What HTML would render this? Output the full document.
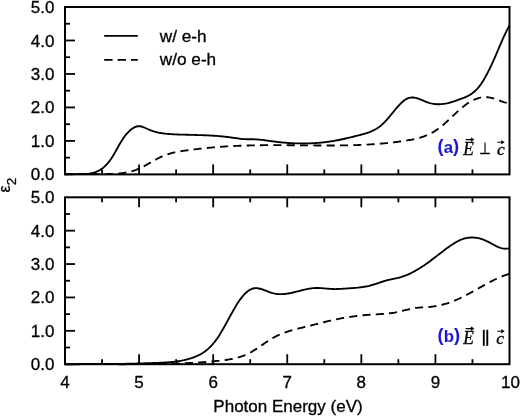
<!DOCTYPE html>
<html><head><meta charset="utf-8"><style>
html,body{margin:0;padding:0;background:#fff;}
body{width:520px;height:417px;overflow:hidden;}
svg{display:block;}
</style></head><body>
<svg width="520" height="417" viewBox="0 0 520 417">
<g stroke="#000" stroke-width="1.8" fill="none" stroke-linecap="butt">
<rect x="65.0" y="7.0" width="444.5" height="167.4" fill="none" stroke="#000" stroke-width="2"/>
<line x1="65.0" y1="157.66" x2="70.0" y2="157.66"/>
<line x1="65.0" y1="140.92" x2="75.0" y2="140.92"/>
<line x1="65.0" y1="124.18" x2="70.0" y2="124.18"/>
<line x1="65.0" y1="107.44" x2="75.0" y2="107.44"/>
<line x1="65.0" y1="90.70" x2="70.0" y2="90.70"/>
<line x1="65.0" y1="73.96" x2="75.0" y2="73.96"/>
<line x1="65.0" y1="57.22" x2="70.0" y2="57.22"/>
<line x1="65.0" y1="40.48" x2="75.0" y2="40.48"/>
<line x1="65.0" y1="23.74" x2="70.0" y2="23.74"/>
<line x1="102.04" y1="174.4" x2="102.04" y2="169.4"/>
<line x1="139.08" y1="174.4" x2="139.08" y2="164.4"/>
<line x1="176.12" y1="174.4" x2="176.12" y2="169.4"/>
<line x1="213.17" y1="174.4" x2="213.17" y2="164.4"/>
<line x1="250.21" y1="174.4" x2="250.21" y2="169.4"/>
<line x1="287.25" y1="174.4" x2="287.25" y2="164.4"/>
<line x1="324.29" y1="174.4" x2="324.29" y2="169.4"/>
<line x1="361.33" y1="174.4" x2="361.33" y2="164.4"/>
<line x1="398.38" y1="174.4" x2="398.38" y2="169.4"/>
<line x1="435.42" y1="174.4" x2="435.42" y2="164.4"/>
<line x1="472.46" y1="174.4" x2="472.46" y2="169.4"/>
<rect x="65.0" y="197.3" width="444.5" height="166.9" fill="none" stroke="#000" stroke-width="2"/>
<line x1="65.0" y1="347.51" x2="70.0" y2="347.51"/>
<line x1="65.0" y1="330.82" x2="75.0" y2="330.82"/>
<line x1="65.0" y1="314.13" x2="70.0" y2="314.13"/>
<line x1="65.0" y1="297.44" x2="75.0" y2="297.44"/>
<line x1="65.0" y1="280.75" x2="70.0" y2="280.75"/>
<line x1="65.0" y1="264.06" x2="75.0" y2="264.06"/>
<line x1="65.0" y1="247.37" x2="70.0" y2="247.37"/>
<line x1="65.0" y1="230.68" x2="75.0" y2="230.68"/>
<line x1="65.0" y1="213.99" x2="70.0" y2="213.99"/>
<line x1="102.04" y1="364.2" x2="102.04" y2="359.2"/>
<line x1="102.04" y1="197.3" x2="102.04" y2="202.3"/>
<line x1="139.08" y1="364.2" x2="139.08" y2="354.2"/>
<line x1="139.08" y1="197.3" x2="139.08" y2="207.3"/>
<line x1="176.12" y1="364.2" x2="176.12" y2="359.2"/>
<line x1="176.12" y1="197.3" x2="176.12" y2="202.3"/>
<line x1="213.17" y1="364.2" x2="213.17" y2="354.2"/>
<line x1="213.17" y1="197.3" x2="213.17" y2="207.3"/>
<line x1="250.21" y1="364.2" x2="250.21" y2="359.2"/>
<line x1="250.21" y1="197.3" x2="250.21" y2="202.3"/>
<line x1="287.25" y1="364.2" x2="287.25" y2="354.2"/>
<line x1="287.25" y1="197.3" x2="287.25" y2="207.3"/>
<line x1="324.29" y1="364.2" x2="324.29" y2="359.2"/>
<line x1="324.29" y1="197.3" x2="324.29" y2="202.3"/>
<line x1="361.33" y1="364.2" x2="361.33" y2="354.2"/>
<line x1="361.33" y1="197.3" x2="361.33" y2="207.3"/>
<line x1="398.38" y1="364.2" x2="398.38" y2="359.2"/>
<line x1="398.38" y1="197.3" x2="398.38" y2="202.3"/>
<line x1="435.42" y1="364.2" x2="435.42" y2="354.2"/>
<line x1="435.42" y1="197.3" x2="435.42" y2="207.3"/>
<line x1="472.46" y1="364.2" x2="472.46" y2="359.2"/>
<line x1="472.46" y1="197.3" x2="472.46" y2="202.3"/>
</g>
<g fill="none" stroke="#000" stroke-width="1.85" stroke-linejoin="round">
<path d="M65.00,174.31 L66.20,174.22 L67.40,174.16 L68.59,174.11 L69.79,174.09 L70.99,174.08 L72.19,174.08 L73.40,174.09 L74.60,174.10 L75.80,174.12 L77.00,174.14 L78.20,174.16 L79.40,174.16 L80.60,174.17 L81.80,174.16 L83.00,174.13 L84.19,174.09 L85.39,174.03 L86.59,173.94 L87.79,173.83 L88.98,173.69 L90.16,173.51 L91.34,173.28 L92.51,173.02 L93.67,172.71 L94.82,172.35 L95.94,171.94 L97.05,171.47 L98.14,170.96 L99.19,170.40 L100.23,169.78 L101.23,169.13 L102.21,168.43 L103.15,167.69 L104.07,166.92 L104.96,166.11 L105.82,165.27 L106.65,164.41 L107.46,163.52 L108.24,162.60 L108.99,161.67 L109.72,160.72 L110.43,159.75 L111.12,158.77 L111.79,157.77 L112.44,156.76 L113.07,155.74 L113.69,154.71 L114.29,153.68 L114.89,152.64 L115.48,151.59 L116.07,150.55 L116.65,149.50 L117.23,148.45 L117.81,147.40 L118.40,146.35 L118.98,145.30 L119.58,144.26 L120.17,143.22 L120.78,142.18 L121.40,141.15 L122.03,140.13 L122.68,139.13 L123.35,138.13 L124.05,137.15 L124.76,136.18 L125.50,135.24 L126.26,134.31 L127.05,133.41 L127.86,132.53 L128.71,131.67 L129.58,130.85 L130.48,130.05 L131.41,129.30 L132.38,128.59 L133.38,127.93 L134.43,127.35 L135.53,126.86 L136.67,126.48 L137.84,126.24 L139.04,126.17 L140.23,126.26 L141.41,126.50 L142.56,126.85 L143.68,127.27 L144.79,127.74 L145.88,128.23 L146.97,128.74 L148.06,129.24 L149.16,129.71 L150.28,130.16 L151.40,130.58 L152.53,130.97 L153.68,131.34 L154.83,131.68 L155.99,131.99 L157.15,132.28 L158.32,132.54 L159.50,132.79 L160.68,133.01 L161.86,133.21 L163.05,133.38 L164.24,133.54 L165.43,133.69 L166.62,133.81 L167.82,133.93 L169.01,134.02 L170.21,134.11 L171.41,134.19 L172.60,134.26 L173.80,134.32 L175.00,134.37 L176.20,134.42 L177.40,134.47 L178.60,134.51 L179.80,134.55 L181.00,134.59 L182.20,134.63 L183.40,134.66 L184.60,134.70 L185.80,134.73 L187.00,134.76 L188.20,134.79 L189.40,134.82 L190.60,134.85 L191.80,134.89 L193.00,134.92 L194.20,134.95 L195.40,134.98 L196.59,135.01 L197.79,135.05 L198.99,135.08 L200.19,135.12 L201.39,135.16 L202.59,135.20 L203.79,135.24 L204.99,135.29 L206.19,135.34 L207.39,135.39 L208.59,135.45 L209.79,135.51 L210.99,135.57 L212.18,135.64 L213.38,135.71 L214.58,135.79 L215.78,135.87 L216.97,135.95 L218.17,136.05 L219.37,136.14 L220.56,136.25 L221.76,136.35 L222.95,136.47 L224.15,136.59 L225.34,136.72 L226.53,136.85 L227.72,137.00 L228.91,137.15 L230.10,137.30 L231.29,137.47 L232.48,137.64 L233.67,137.82 L234.85,138.01 L236.04,138.19 L237.23,138.37 L238.41,138.54 L239.60,138.70 L240.79,138.84 L241.99,138.97 L243.18,139.07 L244.38,139.14 L245.58,139.19 L246.78,139.21 L247.98,139.22 L249.18,139.22 L250.38,139.22 L251.58,139.22 L252.78,139.24 L253.98,139.27 L255.18,139.32 L256.38,139.39 L257.57,139.48 L258.77,139.57 L259.97,139.69 L261.16,139.81 L262.35,139.94 L263.54,140.09 L264.73,140.24 L265.92,140.39 L267.11,140.55 L268.30,140.72 L269.49,140.88 L270.68,141.05 L271.87,141.21 L273.06,141.37 L274.25,141.53 L275.44,141.68 L276.63,141.83 L277.82,141.97 L279.01,142.11 L280.21,142.24 L281.40,142.36 L282.60,142.48 L283.79,142.59 L284.99,142.69 L286.18,142.79 L287.38,142.88 L288.58,142.97 L289.77,143.05 L290.97,143.12 L292.17,143.19 L293.37,143.24 L294.57,143.30 L295.77,143.34 L296.97,143.38 L298.17,143.41 L299.37,143.44 L300.57,143.45 L301.77,143.47 L302.97,143.47 L304.17,143.46 L305.37,143.45 L306.57,143.43 L307.77,143.41 L308.97,143.37 L310.16,143.33 L311.36,143.28 L312.56,143.23 L313.76,143.16 L314.96,143.09 L316.16,143.01 L317.35,142.92 L318.55,142.83 L319.75,142.73 L320.94,142.61 L322.13,142.50 L323.33,142.37 L324.52,142.23 L325.71,142.09 L326.90,141.94 L328.09,141.78 L329.28,141.61 L330.47,141.44 L331.65,141.25 L332.84,141.06 L334.02,140.86 L335.20,140.65 L336.38,140.44 L337.56,140.22 L338.74,139.99 L339.92,139.75 L341.09,139.51 L342.27,139.26 L343.44,139.00 L344.61,138.75 L345.78,138.48 L346.95,138.21 L348.12,137.94 L349.29,137.66 L350.46,137.38 L351.62,137.09 L352.79,136.81 L353.95,136.52 L355.11,136.22 L356.28,135.93 L357.44,135.63 L358.60,135.33 L359.76,135.03 L360.93,134.73 L362.09,134.42 L363.24,134.10 L364.40,133.78 L365.55,133.44 L366.70,133.08 L367.83,132.70 L368.97,132.30 L370.09,131.87 L371.20,131.42 L372.29,130.93 L373.38,130.42 L374.45,129.87 L375.50,129.29 L376.53,128.68 L377.54,128.03 L378.53,127.36 L379.50,126.65 L380.45,125.92 L381.38,125.15 L382.28,124.36 L383.17,123.55 L384.03,122.71 L384.87,121.86 L385.69,120.98 L386.50,120.10 L387.29,119.20 L388.08,118.29 L388.85,117.37 L389.62,116.45 L390.39,115.53 L391.15,114.60 L391.91,113.67 L392.66,112.74 L393.42,111.81 L394.18,110.88 L394.95,109.95 L395.72,109.03 L396.49,108.12 L397.28,107.21 L398.07,106.31 L398.88,105.42 L399.70,104.55 L400.54,103.69 L401.40,102.85 L402.28,102.04 L403.19,101.26 L404.14,100.51 L405.11,99.82 L406.13,99.18 L407.19,98.62 L408.29,98.15 L409.44,97.80 L410.62,97.58 L411.81,97.48 L413.01,97.50 L414.21,97.62 L415.39,97.83 L416.55,98.11 L417.70,98.45 L418.84,98.84 L419.96,99.27 L421.08,99.72 L422.18,100.18 L423.29,100.65 L424.39,101.12 L425.50,101.58 L426.62,102.02 L427.74,102.44 L428.88,102.81 L430.03,103.15 L431.20,103.44 L432.37,103.68 L433.56,103.88 L434.75,104.04 L435.94,104.15 L437.14,104.22 L438.34,104.25 L439.54,104.24 L440.74,104.18 L441.93,104.09 L443.13,103.95 L444.32,103.79 L445.50,103.59 L446.68,103.35 L447.85,103.09 L449.01,102.80 L450.17,102.49 L451.32,102.15 L452.47,101.80 L453.61,101.43 L454.75,101.06 L455.89,100.67 L457.02,100.27 L458.15,99.86 L459.28,99.46 L460.41,99.05 L461.53,98.63 L462.66,98.22 L463.78,97.79 L464.89,97.34 L465.99,96.87 L467.08,96.36 L468.16,95.83 L469.21,95.26 L470.25,94.65 L471.26,94.00 L472.24,93.31 L473.20,92.59 L474.13,91.83 L475.02,91.03 L475.89,90.20 L476.73,89.34 L477.54,88.46 L478.33,87.55 L479.09,86.62 L479.82,85.68 L480.54,84.71 L481.23,83.73 L481.90,82.73 L482.55,81.73 L483.19,80.71 L483.80,79.68 L484.41,78.64 L485.00,77.60 L485.59,76.55 L486.16,75.50 L486.73,74.44 L487.29,73.38 L487.85,72.32 L488.39,71.25 L488.94,70.18 L489.47,69.10 L490.00,68.03 L490.53,66.95 L491.04,65.86 L491.56,64.78 L492.06,63.69 L492.57,62.60 L493.06,61.51 L493.55,60.41 L494.04,59.32 L494.53,58.22 L495.01,57.12 L495.48,56.02 L495.96,54.92 L496.43,53.81 L496.90,52.71 L497.37,51.61 L497.84,50.50 L498.31,49.40 L498.78,48.29 L499.25,47.19 L499.72,46.08 L500.19,44.98 L500.67,43.88 L501.14,42.77 L501.62,41.67 L502.10,40.57 L502.58,39.48 L503.07,38.38 L503.56,37.29 L504.06,36.19 L504.57,35.10 L505.07,34.02 L505.59,32.93 L506.12,31.85 L506.65,30.78 L507.19,29.71 L507.75,28.65 L508.32,27.59 L508.90,26.54 L509.50,25.50"/>
<path d="M65.00,174.17 L66.20,174.21 L67.40,174.23 L68.60,174.25 L69.80,174.26 L71.01,174.26 L72.21,174.26 L73.41,174.26 L74.61,174.25 L75.81,174.24 L77.01,174.22 L78.21,174.20 L79.42,174.18 L80.62,174.16 L81.82,174.14 L83.02,174.12 L84.22,174.10 L85.42,174.08 L86.62,174.06 L87.82,174.05 L89.03,174.04 L90.23,174.03 L91.43,174.03 L92.63,174.03 L93.83,174.03 L95.03,174.03 L96.23,174.04 L97.43,174.05 L98.64,174.06 L99.84,174.06 L101.04,174.07 L102.24,174.07 L103.44,174.07 L104.64,174.07 L105.84,174.06 L107.05,174.05 L108.25,174.03 L109.45,174.00 L110.65,173.97 L111.85,173.93 L113.05,173.88 L114.25,173.83 L115.45,173.76 L116.65,173.68 L117.85,173.59 L119.04,173.49 L120.24,173.37 L121.43,173.23 L122.62,173.08 L123.81,172.91 L125.00,172.72 L126.18,172.51 L127.36,172.28 L128.54,172.03 L129.71,171.75 L130.87,171.46 L132.03,171.13 L133.18,170.79 L134.32,170.42 L135.46,170.03 L136.58,169.61 L137.70,169.17 L138.81,168.70 L139.90,168.21 L140.99,167.70 L142.07,167.17 L143.14,166.63 L144.21,166.07 L145.27,165.50 L146.32,164.93 L147.37,164.34 L148.42,163.76 L149.46,163.16 L150.51,162.57 L151.55,161.97 L152.60,161.38 L153.64,160.79 L154.69,160.21 L155.74,159.63 L156.80,159.06 L157.86,158.50 L158.93,157.95 L160.01,157.42 L161.10,156.91 L162.19,156.41 L163.30,155.94 L164.41,155.49 L165.53,155.06 L166.66,154.65 L167.80,154.27 L168.95,153.90 L170.10,153.56 L171.25,153.24 L172.42,152.93 L173.58,152.65 L174.75,152.38 L175.93,152.13 L177.11,151.89 L178.29,151.67 L179.47,151.46 L180.65,151.26 L181.84,151.07 L183.03,150.89 L184.22,150.71 L185.41,150.55 L186.60,150.39 L187.79,150.23 L188.98,150.08 L190.17,149.92 L191.36,149.77 L192.56,149.62 L193.75,149.48 L194.94,149.33 L196.13,149.19 L197.33,149.05 L198.52,148.91 L199.71,148.77 L200.91,148.64 L202.10,148.51 L203.30,148.38 L204.49,148.25 L205.69,148.13 L206.88,148.00 L208.08,147.89 L209.27,147.77 L210.47,147.66 L211.66,147.55 L212.86,147.44 L214.06,147.33 L215.25,147.23 L216.45,147.13 L217.65,147.04 L218.85,146.94 L220.05,146.85 L221.24,146.77 L222.44,146.68 L223.64,146.60 L224.84,146.52 L226.04,146.44 L227.24,146.37 L228.44,146.30 L229.64,146.23 L230.84,146.17 L232.04,146.10 L233.24,146.04 L234.44,145.98 L235.64,145.93 L236.84,145.87 L238.04,145.82 L239.24,145.77 L240.44,145.73 L241.64,145.68 L242.84,145.64 L244.04,145.60 L245.24,145.56 L246.44,145.52 L247.64,145.49 L248.84,145.46 L250.04,145.43 L251.24,145.40 L252.44,145.37 L253.65,145.34 L254.85,145.32 L256.05,145.30 L257.25,145.28 L258.45,145.26 L259.65,145.24 L260.85,145.23 L262.05,145.22 L263.26,145.20 L264.46,145.19 L265.66,145.18 L266.86,145.17 L268.06,145.17 L269.26,145.16 L270.46,145.16 L271.67,145.15 L272.87,145.15 L274.07,145.15 L275.27,145.15 L276.47,145.15 L277.67,145.15 L278.87,145.16 L280.08,145.16 L281.28,145.16 L282.48,145.17 L283.68,145.17 L284.88,145.18 L286.08,145.19 L287.28,145.20 L288.48,145.20 L289.69,145.21 L290.89,145.22 L292.09,145.23 L293.29,145.24 L294.49,145.25 L295.69,145.27 L296.89,145.28 L298.10,145.29 L299.30,145.30 L300.50,145.31 L301.70,145.33 L302.90,145.34 L304.10,145.35 L305.30,145.36 L306.50,145.38 L307.71,145.39 L308.91,145.40 L310.11,145.41 L311.31,145.42 L312.51,145.43 L313.71,145.44 L314.91,145.45 L316.12,145.46 L317.32,145.47 L318.52,145.48 L319.72,145.49 L320.92,145.49 L322.12,145.50 L323.32,145.51 L324.52,145.51 L325.73,145.51 L326.93,145.51 L328.13,145.52 L329.33,145.52 L330.53,145.51 L331.73,145.51 L332.93,145.51 L334.14,145.50 L335.34,145.50 L336.54,145.49 L337.74,145.48 L338.94,145.47 L340.14,145.45 L341.34,145.44 L342.54,145.42 L343.75,145.40 L344.95,145.38 L346.15,145.36 L347.35,145.34 L348.55,145.31 L349.75,145.28 L350.95,145.25 L352.15,145.22 L353.35,145.19 L354.56,145.15 L355.76,145.11 L356.96,145.07 L358.16,145.02 L359.36,144.98 L360.56,144.93 L361.76,144.87 L362.96,144.82 L364.16,144.76 L365.36,144.70 L366.56,144.64 L367.76,144.57 L368.96,144.50 L370.16,144.43 L371.36,144.35 L372.55,144.28 L373.75,144.19 L374.95,144.11 L376.15,144.02 L377.35,143.93 L378.54,143.83 L379.74,143.74 L380.94,143.63 L382.14,143.53 L383.33,143.42 L384.53,143.31 L385.72,143.19 L386.92,143.07 L388.11,142.95 L389.31,142.82 L390.50,142.69 L391.70,142.55 L392.89,142.41 L394.08,142.27 L395.28,142.12 L396.47,141.97 L397.66,141.81 L398.85,141.65 L400.04,141.49 L401.23,141.32 L402.42,141.15 L403.61,140.97 L404.79,140.79 L405.98,140.60 L407.17,140.41 L408.35,140.21 L409.53,140.01 L410.72,139.79 L411.90,139.57 L413.08,139.34 L414.25,139.09 L415.42,138.83 L416.59,138.55 L417.76,138.26 L418.92,137.95 L420.07,137.62 L421.22,137.27 L422.37,136.90 L423.50,136.51 L424.63,136.10 L425.75,135.67 L426.87,135.22 L427.97,134.74 L429.06,134.24 L430.14,133.71 L431.21,133.17 L432.27,132.60 L433.32,132.01 L434.35,131.39 L435.37,130.76 L436.37,130.10 L437.37,129.42 L438.34,128.73 L439.31,128.01 L440.26,127.28 L441.20,126.53 L442.12,125.76 L443.04,124.99 L443.95,124.20 L444.85,123.41 L445.75,122.61 L446.64,121.80 L447.52,120.98 L448.40,120.17 L449.28,119.34 L450.15,118.52 L451.02,117.69 L451.89,116.87 L452.76,116.04 L453.64,115.21 L454.51,114.38 L455.38,113.56 L456.26,112.74 L457.14,111.92 L458.03,111.11 L458.92,110.31 L459.82,109.51 L460.72,108.72 L461.64,107.94 L462.56,107.17 L463.49,106.41 L464.43,105.67 L465.39,104.94 L466.36,104.23 L467.35,103.55 L468.35,102.88 L469.36,102.24 L470.40,101.63 L471.45,101.04 L472.51,100.49 L473.59,99.97 L474.69,99.48 L475.81,99.03 L476.94,98.63 L478.08,98.26 L479.24,97.95 L480.41,97.68 L481.60,97.47 L482.79,97.31 L483.98,97.21 L485.18,97.16 L486.38,97.18 L487.58,97.25 L488.78,97.38 L489.96,97.58 L491.14,97.83 L492.30,98.12 L493.46,98.46 L494.60,98.82 L495.74,99.21 L496.87,99.61 L498.00,100.02 L499.12,100.44 L500.25,100.86 L501.38,101.27 L502.51,101.67 L503.65,102.05 L504.80,102.40 L505.96,102.72 L507.13,102.99 L508.31,103.22 L509.50,103.38" stroke-dasharray="8.1 5.22"/>
<path d="M65.00,364.21 L66.20,364.21 L67.41,364.21 L68.61,364.21 L69.81,364.20 L71.01,364.20 L72.22,364.20 L73.42,364.20 L74.62,364.20 L75.83,364.20 L77.03,364.20 L78.23,364.20 L79.43,364.20 L80.64,364.19 L81.84,364.19 L83.04,364.19 L84.25,364.19 L85.45,364.18 L86.65,364.18 L87.85,364.18 L89.06,364.17 L90.26,364.17 L91.46,364.16 L92.67,364.16 L93.87,364.15 L95.07,364.15 L96.27,364.14 L97.48,364.13 L98.68,364.13 L99.88,364.12 L101.09,364.11 L102.29,364.10 L103.49,364.09 L104.69,364.08 L105.90,364.07 L107.10,364.06 L108.30,364.05 L109.51,364.03 L110.71,364.02 L111.91,364.01 L113.11,363.99 L114.32,363.98 L115.52,363.96 L116.72,363.94 L117.92,363.92 L119.13,363.91 L120.33,363.89 L121.53,363.87 L122.74,363.84 L123.94,363.82 L125.14,363.80 L126.34,363.78 L127.55,363.75 L128.75,363.72 L129.95,363.70 L131.15,363.67 L132.36,363.64 L133.56,363.61 L134.76,363.58 L135.96,363.55 L137.17,363.52 L138.37,363.49 L139.57,363.45 L140.77,363.42 L141.98,363.39 L143.18,363.35 L144.38,363.31 L145.58,363.28 L146.78,363.24 L147.99,363.20 L149.19,363.16 L150.39,363.12 L151.59,363.08 L152.80,363.04 L154.00,363.00 L155.20,362.95 L156.40,362.91 L157.60,362.87 L158.81,362.82 L160.01,362.77 L161.21,362.72 L162.41,362.66 L163.61,362.60 L164.81,362.53 L166.01,362.46 L167.21,362.38 L168.41,362.29 L169.61,362.20 L170.81,362.09 L172.01,361.98 L173.20,361.85 L174.40,361.72 L175.59,361.57 L176.79,361.41 L177.98,361.23 L179.16,361.05 L180.35,360.84 L181.53,360.63 L182.71,360.39 L183.89,360.15 L185.06,359.88 L186.23,359.60 L187.40,359.30 L188.56,358.98 L189.71,358.65 L190.86,358.30 L192.01,357.93 L193.14,357.53 L194.27,357.12 L195.39,356.68 L196.50,356.22 L197.60,355.72 L198.68,355.20 L199.75,354.65 L200.81,354.07 L201.85,353.46 L202.87,352.83 L203.87,352.16 L204.85,351.46 L205.81,350.74 L206.75,349.99 L207.67,349.22 L208.57,348.42 L209.45,347.60 L210.31,346.76 L211.15,345.90 L211.97,345.02 L212.77,344.12 L213.55,343.21 L214.32,342.28 L215.06,341.33 L215.79,340.38 L216.50,339.41 L217.20,338.43 L217.88,337.43 L218.55,336.43 L219.20,335.42 L219.84,334.40 L220.47,333.38 L221.09,332.35 L221.71,331.32 L222.31,330.28 L222.91,329.24 L223.51,328.19 L224.10,327.14 L224.68,326.09 L225.27,325.04 L225.85,323.98 L226.42,322.93 L227.00,321.87 L227.57,320.82 L228.15,319.76 L228.72,318.70 L229.30,317.65 L229.87,316.59 L230.45,315.53 L231.03,314.48 L231.61,313.43 L232.19,312.38 L232.78,311.33 L233.38,310.28 L233.98,309.24 L234.58,308.20 L235.19,307.16 L235.81,306.13 L236.44,305.11 L237.08,304.09 L237.73,303.07 L238.39,302.07 L239.06,301.07 L239.75,300.09 L240.45,299.11 L241.17,298.15 L241.91,297.20 L242.67,296.26 L243.45,295.34 L244.25,294.45 L245.08,293.58 L245.94,292.74 L246.84,291.94 L247.77,291.18 L248.75,290.47 L249.77,289.84 L250.83,289.28 L251.95,288.83 L253.10,288.49 L254.28,288.27 L255.48,288.17 L256.68,288.18 L257.88,288.29 L259.07,288.48 L260.24,288.75 L261.40,289.07 L262.54,289.44 L263.68,289.84 L264.80,290.26 L265.92,290.70 L267.04,291.15 L268.16,291.59 L269.28,292.02 L270.41,292.44 L271.55,292.82 L272.71,293.16 L273.87,293.45 L275.05,293.70 L276.24,293.89 L277.43,294.03 L278.63,294.12 L279.83,294.17 L281.04,294.18 L282.24,294.15 L283.44,294.08 L284.64,293.97 L285.83,293.84 L287.02,293.67 L288.21,293.48 L289.39,293.27 L290.58,293.04 L291.75,292.79 L292.93,292.52 L294.10,292.25 L295.26,291.96 L296.43,291.67 L297.60,291.37 L298.76,291.07 L299.93,290.78 L301.09,290.48 L302.26,290.19 L303.43,289.90 L304.60,289.63 L305.77,289.37 L306.95,289.12 L308.13,288.89 L309.32,288.68 L310.50,288.49 L311.70,288.33 L312.89,288.20 L314.09,288.10 L315.29,288.03 L316.49,288.00 L317.70,288.00 L318.90,288.03 L320.10,288.08 L321.30,288.16 L322.50,288.24 L323.70,288.34 L324.90,288.45 L326.10,288.56 L327.29,288.66 L328.49,288.77 L329.69,288.86 L330.89,288.94 L332.09,289.00 L333.30,289.04 L334.50,289.06 L335.70,289.06 L336.90,289.03 L338.11,288.99 L339.31,288.94 L340.51,288.88 L341.71,288.81 L342.91,288.73 L344.11,288.65 L345.31,288.58 L346.51,288.50 L347.71,288.43 L348.91,288.35 L350.11,288.27 L351.31,288.19 L352.51,288.11 L353.71,288.02 L354.91,287.92 L356.11,287.81 L357.31,287.69 L358.50,287.57 L359.70,287.43 L360.89,287.28 L362.08,287.11 L363.27,286.93 L364.46,286.74 L365.64,286.53 L366.82,286.29 L368.00,286.04 L369.17,285.78 L370.34,285.49 L371.50,285.17 L372.66,284.84 L373.81,284.50 L374.96,284.14 L376.10,283.77 L377.24,283.39 L378.39,283.01 L379.53,282.63 L380.67,282.25 L381.81,281.87 L382.95,281.50 L384.10,281.14 L385.25,280.79 L386.41,280.46 L387.57,280.14 L388.74,279.85 L389.91,279.58 L391.08,279.32 L392.26,279.08 L393.44,278.84 L394.62,278.60 L395.80,278.36 L396.97,278.10 L398.14,277.83 L399.31,277.53 L400.47,277.21 L401.62,276.87 L402.76,276.50 L403.90,276.10 L405.03,275.69 L406.15,275.25 L407.26,274.79 L408.37,274.31 L409.46,273.81 L410.55,273.30 L411.63,272.77 L412.70,272.23 L413.76,271.67 L414.82,271.09 L415.87,270.50 L416.91,269.90 L417.95,269.29 L418.98,268.67 L420.00,268.04 L421.02,267.39 L422.03,266.74 L423.03,266.08 L424.03,265.41 L425.03,264.73 L426.01,264.04 L427.00,263.35 L427.98,262.65 L428.95,261.95 L429.92,261.23 L430.88,260.52 L431.85,259.79 L432.80,259.07 L433.76,258.34 L434.71,257.60 L435.66,256.86 L436.61,256.12 L437.56,255.38 L438.51,254.64 L439.45,253.90 L440.40,253.16 L441.35,252.43 L442.31,251.69 L443.26,250.96 L444.22,250.24 L445.18,249.51 L446.15,248.80 L447.12,248.09 L448.10,247.38 L449.08,246.69 L450.06,246.00 L451.05,245.32 L452.05,244.65 L453.06,243.99 L454.08,243.35 L455.11,242.73 L456.15,242.12 L457.20,241.54 L458.27,240.99 L459.35,240.46 L460.44,239.96 L461.56,239.50 L462.68,239.08 L463.83,238.71 L464.99,238.39 L466.16,238.11 L467.34,237.89 L468.53,237.71 L469.72,237.59 L470.93,237.52 L472.13,237.50 L473.33,237.53 L474.53,237.62 L475.73,237.75 L476.92,237.93 L478.10,238.15 L479.27,238.42 L480.43,238.72 L481.59,239.07 L482.73,239.45 L483.85,239.87 L484.97,240.32 L486.07,240.80 L487.16,241.31 L488.24,241.84 L489.31,242.40 L490.37,242.96 L491.42,243.54 L492.48,244.12 L493.53,244.70 L494.59,245.26 L495.66,245.82 L496.74,246.35 L497.83,246.85 L498.94,247.31 L500.07,247.73 L501.22,248.09 L502.39,248.38 L503.57,248.59 L504.77,248.70 L505.97,248.70 L507.17,248.59 L508.35,248.36 L509.50,248.02"/>
<path d="M65.00,364.26 L66.20,364.25 L67.40,364.24 L68.60,364.23 L69.80,364.22 L71.01,364.21 L72.21,364.21 L73.41,364.20 L74.61,364.19 L75.81,364.19 L77.01,364.18 L78.21,364.18 L79.41,364.18 L80.62,364.17 L81.82,364.17 L83.02,364.17 L84.22,364.17 L85.42,364.17 L86.62,364.16 L87.82,364.16 L89.02,364.16 L90.23,364.16 L91.43,364.16 L92.63,364.16 L93.83,364.17 L95.03,364.17 L96.23,364.17 L97.43,364.17 L98.63,364.17 L99.84,364.17 L101.04,364.17 L102.24,364.18 L103.44,364.18 L104.64,364.18 L105.84,364.18 L107.04,364.18 L108.24,364.19 L109.45,364.19 L110.65,364.19 L111.85,364.19 L113.05,364.19 L114.25,364.19 L115.45,364.20 L116.65,364.20 L117.85,364.20 L119.06,364.20 L120.26,364.20 L121.46,364.20 L122.66,364.20 L123.86,364.20 L125.06,364.20 L126.26,364.20 L127.46,364.19 L128.67,364.19 L129.87,364.19 L131.07,364.19 L132.27,364.18 L133.47,364.18 L134.67,364.18 L135.87,364.17 L137.07,364.17 L138.28,364.16 L139.48,364.15 L140.68,364.15 L141.88,364.14 L143.08,364.13 L144.28,364.12 L145.48,364.11 L146.68,364.10 L147.89,364.09 L149.09,364.07 L150.29,364.06 L151.49,364.05 L152.69,364.03 L153.89,364.02 L155.09,364.00 L156.29,363.98 L157.49,363.96 L158.70,363.94 L159.90,363.92 L161.10,363.90 L162.30,363.88 L163.50,363.86 L164.70,363.83 L165.90,363.81 L167.10,363.78 L168.30,363.75 L169.50,363.72 L170.71,363.69 L171.91,363.66 L173.11,363.62 L174.31,363.59 L175.51,363.55 L176.71,363.51 L177.91,363.47 L179.11,363.43 L180.31,363.38 L181.51,363.34 L182.71,363.29 L183.91,363.24 L185.11,363.19 L186.31,363.14 L187.51,363.08 L188.71,363.02 L189.91,362.97 L191.11,362.90 L192.31,362.84 L193.51,362.77 L194.71,362.71 L195.91,362.64 L197.11,362.56 L198.31,362.49 L199.51,362.41 L200.70,362.33 L201.90,362.25 L203.10,362.16 L204.30,362.07 L205.50,361.98 L206.69,361.89 L207.89,361.79 L209.09,361.70 L210.29,361.59 L211.48,361.49 L212.68,361.38 L213.87,361.27 L215.07,361.16 L216.27,361.04 L217.46,360.92 L218.66,360.80 L219.85,360.68 L221.05,360.55 L222.24,360.41 L223.43,360.27 L224.62,360.12 L225.81,359.96 L227.00,359.79 L228.19,359.61 L229.38,359.42 L230.56,359.21 L231.74,358.99 L232.92,358.76 L234.09,358.50 L235.26,358.23 L236.43,357.94 L237.59,357.63 L238.75,357.30 L239.89,356.95 L241.04,356.58 L242.17,356.19 L243.30,355.77 L244.42,355.33 L245.53,354.87 L246.63,354.39 L247.72,353.88 L248.79,353.36 L249.86,352.80 L250.92,352.23 L251.96,351.64 L253.00,351.03 L254.02,350.40 L255.04,349.76 L256.05,349.11 L257.05,348.45 L258.05,347.78 L259.04,347.11 L260.03,346.43 L261.02,345.75 L262.01,345.06 L263.00,344.38 L263.99,343.70 L264.98,343.02 L265.97,342.34 L266.97,341.67 L267.97,341.01 L268.98,340.36 L269.99,339.72 L271.02,339.08 L272.05,338.47 L273.09,337.87 L274.14,337.29 L275.20,336.72 L276.27,336.18 L277.35,335.65 L278.44,335.14 L279.54,334.65 L280.64,334.18 L281.75,333.72 L282.87,333.28 L283.99,332.85 L285.12,332.44 L286.25,332.04 L287.39,331.66 L288.53,331.29 L289.68,330.94 L290.83,330.59 L291.99,330.26 L293.14,329.93 L294.30,329.61 L295.46,329.31 L296.62,329.00 L297.79,328.71 L298.95,328.41 L300.12,328.13 L301.29,327.84 L302.45,327.55 L303.62,327.27 L304.79,326.98 L305.95,326.69 L307.12,326.40 L308.28,326.11 L309.45,325.82 L310.61,325.53 L311.78,325.23 L312.94,324.94 L314.11,324.64 L315.27,324.35 L316.44,324.05 L317.60,323.76 L318.77,323.46 L319.93,323.17 L321.10,322.88 L322.26,322.59 L323.43,322.30 L324.60,322.02 L325.76,321.74 L326.93,321.46 L328.10,321.18 L329.27,320.91 L330.44,320.64 L331.61,320.37 L332.78,320.11 L333.96,319.85 L335.13,319.60 L336.31,319.36 L337.49,319.11 L338.66,318.88 L339.84,318.65 L341.02,318.42 L342.20,318.20 L343.39,317.99 L344.57,317.78 L345.75,317.58 L346.94,317.38 L348.12,317.19 L349.31,317.00 L350.50,316.82 L351.69,316.65 L352.88,316.48 L354.07,316.32 L355.26,316.16 L356.45,316.01 L357.64,315.87 L358.83,315.73 L360.03,315.59 L361.22,315.47 L362.42,315.34 L363.61,315.23 L364.81,315.12 L366.01,315.02 L367.20,314.92 L368.40,314.83 L369.60,314.74 L370.80,314.66 L372.00,314.59 L373.20,314.52 L374.40,314.45 L375.59,314.39 L376.79,314.32 L377.99,314.26 L379.19,314.19 L380.39,314.12 L381.59,314.04 L382.79,313.96 L383.99,313.87 L385.19,313.78 L386.38,313.67 L387.58,313.56 L388.77,313.43 L389.97,313.29 L391.16,313.14 L392.35,312.97 L393.53,312.79 L394.72,312.59 L395.90,312.37 L397.08,312.13 L398.25,311.88 L399.42,311.61 L400.59,311.33 L401.75,311.04 L402.92,310.74 L404.08,310.44 L405.25,310.15 L406.41,309.85 L407.58,309.56 L408.74,309.28 L409.92,309.01 L411.09,308.75 L412.27,308.52 L413.45,308.30 L414.63,308.11 L415.82,307.94 L417.02,307.81 L418.21,307.69 L419.41,307.60 L420.61,307.51 L421.81,307.45 L423.01,307.38 L424.21,307.32 L425.41,307.26 L426.61,307.19 L427.80,307.11 L429.00,307.01 L430.20,306.90 L431.39,306.77 L432.58,306.62 L433.77,306.45 L434.96,306.27 L436.15,306.07 L437.33,305.86 L438.51,305.62 L439.68,305.37 L440.85,305.11 L442.02,304.82 L443.18,304.52 L444.34,304.21 L445.50,303.88 L446.65,303.53 L447.79,303.17 L448.93,302.79 L450.07,302.40 L451.20,301.99 L452.32,301.57 L453.44,301.13 L454.55,300.68 L455.66,300.21 L456.76,299.74 L457.86,299.25 L458.95,298.75 L460.04,298.23 L461.12,297.71 L462.20,297.18 L463.27,296.65 L464.34,296.10 L465.41,295.55 L466.48,294.99 L467.54,294.43 L468.59,293.86 L469.65,293.28 L470.70,292.71 L471.75,292.13 L472.80,291.54 L473.85,290.96 L474.90,290.37 L475.95,289.78 L476.99,289.19 L478.04,288.60 L479.09,288.01 L480.13,287.42 L481.18,286.83 L482.23,286.24 L483.28,285.66 L484.33,285.08 L485.38,284.50 L486.43,283.92 L487.49,283.35 L488.55,282.78 L489.61,282.22 L490.68,281.67 L491.75,281.12 L492.82,280.58 L493.89,280.04 L494.98,279.52 L496.06,279.00 L497.15,278.49 L498.24,278.00 L499.34,277.52 L500.45,277.04 L501.56,276.59 L502.67,276.14 L503.80,275.71 L504.92,275.30 L506.06,274.91 L507.20,274.53 L508.35,274.17 L509.50,273.84" stroke-dasharray="8.1 5.22"/>
<line x1="104.2" y1="35.8" x2="137.8" y2="35.8"/>
<line x1="104.2" y1="59.9" x2="137.8" y2="59.9" stroke-dasharray="8.4 5"/>
</g>
<g font-family="'Liberation Sans', Arial, Helvetica, sans-serif" font-size="17" fill="#000" stroke="#000" stroke-width="0.3">
<text x="54.5" y="180.4" text-anchor="end">0.0</text>
<text x="54.5" y="146.9" text-anchor="end">1.0</text>
<text x="54.5" y="113.4" text-anchor="end">2.0</text>
<text x="54.5" y="80.0" text-anchor="end">3.0</text>
<text x="54.5" y="46.5" text-anchor="end">4.0</text>
<text x="54.5" y="13.0" text-anchor="end">5.0</text>
<text x="54.5" y="370.2" text-anchor="end">0.0</text>
<text x="54.5" y="336.8" text-anchor="end">1.0</text>
<text x="54.5" y="303.4" text-anchor="end">2.0</text>
<text x="54.5" y="270.1" text-anchor="end">3.0</text>
<text x="54.5" y="236.7" text-anchor="end">4.0</text>
<text x="54.5" y="203.3" text-anchor="end">5.0</text>
<text x="65.0" y="387.8" text-anchor="middle">4</text>
<text x="139.1" y="387.8" text-anchor="middle">5</text>
<text x="213.2" y="387.8" text-anchor="middle">6</text>
<text x="287.2" y="387.8" text-anchor="middle">7</text>
<text x="361.3" y="387.8" text-anchor="middle">8</text>
<text x="435.4" y="387.8" text-anchor="middle">9</text>
<text x="510.5" y="387.8" text-anchor="middle">10</text>
<text x="288" y="412.3" text-anchor="middle">Photon Energy (eV)</text>
<text x="159.8" y="41.9" font-size="17.2">w/ e-h</text>
<text x="159.8" y="65.4" font-size="17.2">w/o e-h</text>
<text transform="translate(9.6,192.5) rotate(-90)" font-size="16">&#949;<tspan font-size="13.5" dy="6.8">2</tspan></text>
</g>
<text x="437.6" y="152.8" font-family="'Liberation Sans', Arial, Helvetica, sans-serif" font-weight="bold" font-size="17.3" fill="#1d16d8" stroke="#1d16d8" stroke-width="0.05"><tspan font-size="18.2" dy="-0.4">(</tspan><tspan dy="0.4" font-size="16.8">a</tspan><tspan font-size="18.2" dy="-0.4">)</tspan></text>
<g font-family="'Liberation Serif', 'Times New Roman', serif" fill="#000" stroke="#000" stroke-width="0.35">
<text x="463.2" y="154.6" font-style="italic" font-size="18.3" textLength="10.6" lengthAdjust="spacingAndGlyphs">E</text>
<text transform="translate(479.1,154.1) scale(0.83,1.00)" font-family="DejaVu Sans, sans-serif" font-size="16.2" stroke-width="0.30">&#8869;</text>
<text x="496.9" y="154.6" font-style="italic" font-size="17.6">c</text>
</g>
<g stroke="#000" stroke-width="1.1" fill="none">
<path d="M465.6,139.6 H473 M470.9,138.0 L473.4,139.6 L470.9,141.2"/>
<path d="M497.3,142.3 H503.3 M501.2,140.7 L503.7,142.3 L501.2,143.9"/>
</g>
<text x="437.6" y="341.8" font-family="'Liberation Sans', Arial, Helvetica, sans-serif" font-weight="bold" font-size="17.3" fill="#1d16d8" stroke="#1d16d8" stroke-width="0.05"><tspan font-size="18.2" dy="-0.4">(</tspan><tspan dy="0.4" font-size="16.8">b</tspan><tspan font-size="18.2" dy="-0.4">)</tspan></text>
<g font-family="'Liberation Serif', 'Times New Roman', serif" fill="#000" stroke="#000" stroke-width="0.35">
<text x="463.2" y="343.6" font-style="italic" font-size="18.3" textLength="10.6" lengthAdjust="spacingAndGlyphs">E</text>
<text transform="translate(480.2,341.8) scale(1.32,1.00)" font-family="DejaVu Sans, sans-serif" font-size="16.0" stroke-width="0.15">&#8741;</text>
<text x="496.2" y="343.6" font-style="italic" font-size="17.6">c</text>
</g>
<g stroke="#000" stroke-width="1.1" fill="none">
<path d="M465.6,328.6 H473 M470.9,327.0 L473.4,328.6 L470.9,330.2"/>
<path d="M497.3,331.3 H503.3 M501.2,329.7 L503.7,331.3 L501.2,332.9"/>
</g>
</svg>
</body></html>
